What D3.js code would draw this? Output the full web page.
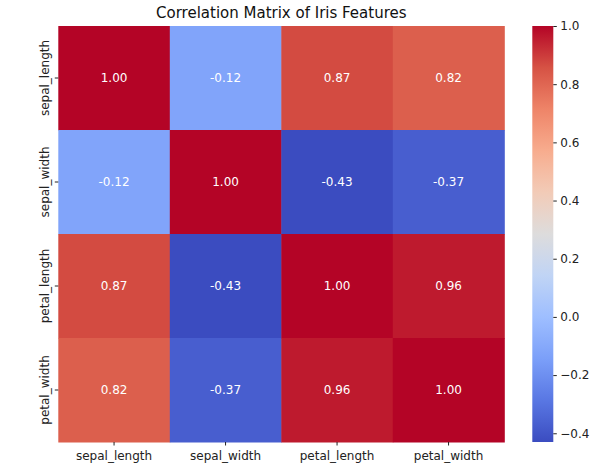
<!DOCTYPE html>
<html>
<head>
<meta charset="utf-8">
<script src="https://cdn.jsdelivr.net/npm/d3@7"></script>
<style>
  body { margin: 0; background: #fff; }
  text { font-family: "DejaVu Sans", sans-serif; }
</style>
</head>
<body>
<div id="chart"></div>
<script>
const features = ['sepal_length', 'sepal_width', 'petal_length', 'petal_width'];
const sepalLength = [1.00, -0.12, 0.87, 0.82];
const sepalWidth = [-0.12, 1.00, -0.43, -0.37];
const petalLength = [0.87, -0.43, 1.00, 0.96];
const petalWidth = [0.82, -0.37, 0.96, 1.00];
const colorbarTicks = [1.0, 0.8, 0.6, 0.4, 0.2, 0.0, -0.2, -0.4];
const title = 'Correlation Matrix of Iris Features';

// coolwarm colormap samples
const coolwarm = ['#3b4cc0', '#5977e3', '#7b9ff9', '#9ebeff', '#c0d4f5', '#dddcdc',
    '#f2cbb7', '#f7ac8e', '#ee8468', '#d65244', '#b40426'];

const rows = [sepalLength, sepalWidth, petalLength, petalWidth];
const cells = [];
rows.forEach((r, i) => r.forEach((v, j) => cells.push({ row: features[i], col: features[j], v: v })));

const [svgWidth, svgHeight] = [609, 469];
const margin = { left: 58.3, top: 26, right: 104.7, bottom: 27 };
const width = svgWidth - margin.left - margin.right;
const height = svgHeight - margin.top - margin.bottom;

const vmin = d3.min(cells, d => d.v), vmax = d3.max(cells, d => d.v);
const interp = d3.piecewise(d3.interpolateRgb, coolwarm);
const color = v => interp((v - vmin) / (vmax - vmin));

function translate(x, y) {
    return 'translate(' + x + ',' + y + ')';
}

const svg = d3.select('#chart').append('svg')
    .attr('width', svgWidth)
    .attr('height', svgHeight);

const g = svg.append('g').attr('transform', translate(margin.left, margin.top));

const x = d3.scaleBand().domain(features).range([0, width]);
const y = d3.scaleBand().domain(features).range([0, height]);

g.selectAll('rect.cell')
    .data(cells)
    .join('rect')
    .attr('class', 'cell')
    .attr('x', d => x(d.col))
    .attr('y', d => y(d.row))
    .attr('width', x.bandwidth() + 0.5)
    .attr('height', y.bandwidth() + 0.5)
    .attr('fill', d => color(d.v));

g.selectAll('text.annot')
    .data(cells)
    .join('text')
    .attr('class', 'annot')
    .attr('x', d => x(d.col) + x.bandwidth() / 2)
    .attr('y', d => y(d.row) + y.bandwidth() / 2)
    .attr('text-anchor', 'middle')
    .attr('dy', '0.36em')
    .attr('fill', '#fff')
    .style('font-size', '12px')
    .text(d => d.v.toFixed(2));

// axes
const xAxis = g.append('g')
    .attr('transform', translate(0, height))
    .call(d3.axisBottom(x).tickSize(3.5).tickPadding(6));
xAxis.select('.domain').remove();
xAxis.selectAll('text').style('font-size', '12px').attr('fill', '#222');
xAxis.selectAll('line').attr('stroke', '#222');

const yAxis = g.append('g')
    .call(d3.axisLeft(y).tickSize(3.5).tickPadding(4));
yAxis.select('.domain').remove();
yAxis.selectAll('line').attr('stroke', '#222');
yAxis.selectAll('text')
    .style('font-size', '12px')
    .attr('fill', '#222')
    .attr('text-anchor', 'middle')
    .attr('dy', 0)
    .attr('x', 0)
    .attr('transform', 'translate(-9.5,0) rotate(-90)');

// title
svg.append('text')
    .attr('x', margin.left + width / 2)
    .attr('y', 18.3)
    .attr('text-anchor', 'middle')
    .attr('fill', '#111')
    .style('font-size', '15px')
    .text(title);

// colorbar
const cbX = 532.3, cbW = 21;
const cbScale = d3.scaleLinear().domain([vmin, vmax]).range([margin.top + height, margin.top]);
const defs = svg.append('defs');
const grad = defs.append('linearGradient')
    .attr('id', 'cbgrad')
    .attr('x1', 0).attr('y1', 1).attr('x2', 0).attr('y2', 0);
d3.range(0, 1.0001, 0.05).forEach(t => {
    grad.append('stop').attr('offset', t).attr('stop-color', interp(t));
});
svg.append('rect')
    .attr('x', cbX)
    .attr('y', margin.top)
    .attr('width', cbW)
    .attr('height', height)
    .attr('fill', 'url(#cbgrad)');

const cbAxis = svg.append('g')
    .attr('transform', translate(cbX + cbW, 0))
    .call(d3.axisRight(cbScale).tickValues(colorbarTicks).tickSize(3.5).tickPadding(3.5)
        .tickFormat(d => d3.format('.1f')(d).replace('-', '\u2212')));
cbAxis.select('.domain').remove();
cbAxis.selectAll('text').style('font-size', '12px').attr('fill', '#222');
cbAxis.selectAll('line').attr('stroke', '#222');
</script>
</body>
</html>
